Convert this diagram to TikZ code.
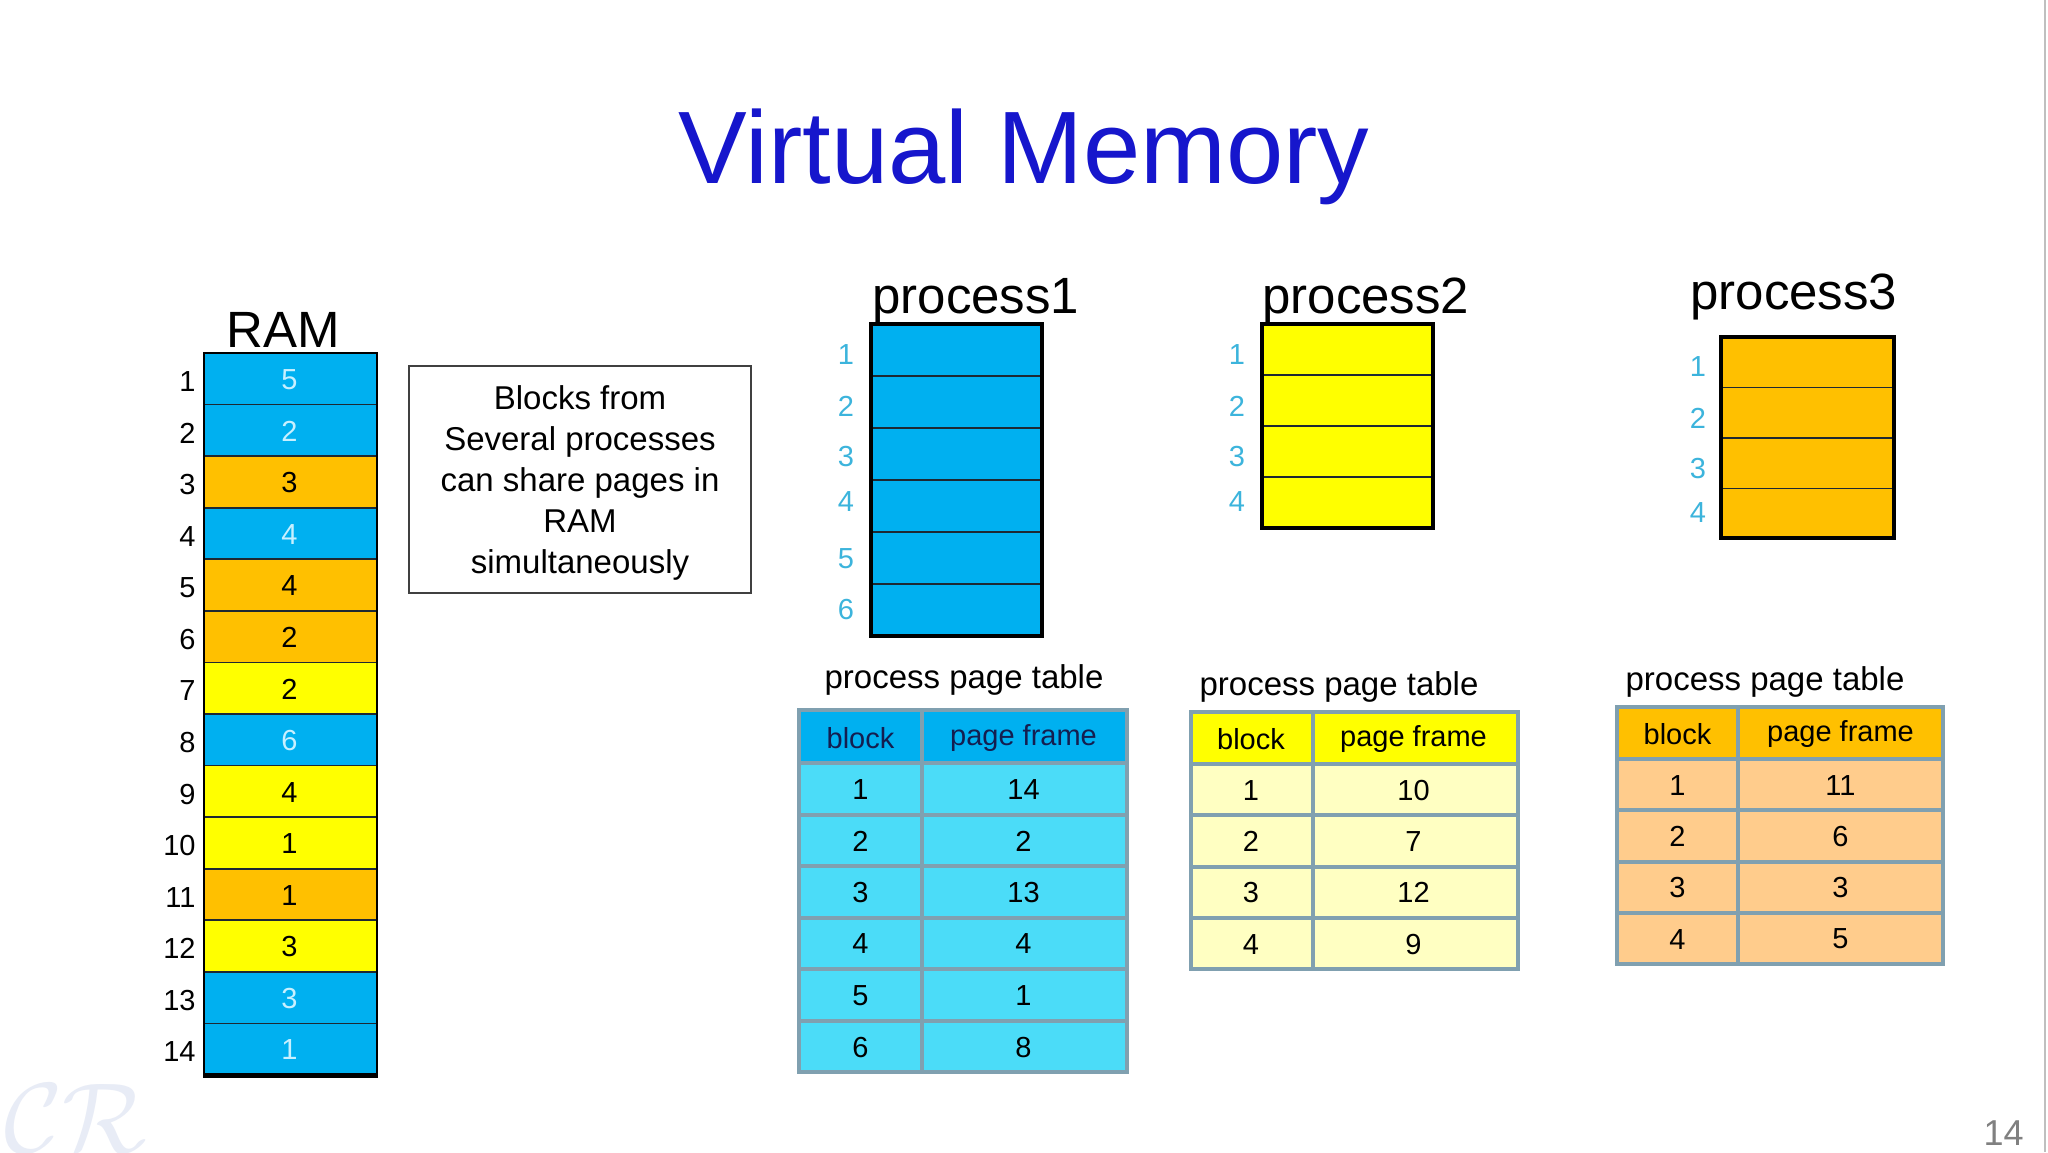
\documentclass[tikz,border=0pt]{standalone}
\usepackage{fontspec}
\setmainfont{Liberation Sans}
\definecolor{ctitle}{RGB}{22,22,204}
\definecolor{cblue}{RGB}{0,176,240}
\definecolor{cyellow}{RGB}{255,255,0}
\definecolor{corange}{RGB}{255,192,0}
\definecolor{wtxt}{RGB}{200,240,255}
\definecolor{rowcyan}{RGB}{60,180,220}
\definecolor{bodyA}{RGB}{75,220,248}
\definecolor{bodyB}{RGB}{255,255,194}
\definecolor{bodyC}{RGB}{255,204,140}
\definecolor{gridc}{RGB}{128,160,176}
\definecolor{navy}{RGB}{20,30,80}
\definecolor{divc}{RGB}{30,40,50}
\definecolor{wmark}{RGB}{232,236,246}
\begin{document}
\begin{tikzpicture}[x=0.5pt,y=-0.5pt,
  numf/.style={font=\fontsize{14.5pt}{17pt}\selectfont, inner sep=0pt},
  rowlab/.style={numf, text=rowcyan},
  proclab/.style={font=\fontsize{25.5pt}{30pt}\selectfont, inner sep=0pt, anchor=base west},
  tabhead/.style={font=\fontsize{16.5pt}{20pt}\selectfont, inner sep=0pt, anchor=base},
  gridline/.style={draw=gridc, line width=2pt},
  divline/.style={draw=divc, line width=0.8pt},
  boxline/.style={draw=black, line width=1.8pt}]
\useasboundingbox (0,0) rectangle (2048,1152);
\fill[white] (0,0) rectangle (2048,1152);
\draw[gray!50, line width=1pt] (2045,0) -- (2045,1152);

% title
\node[font=\fontsize{51.5pt}{60pt}\selectfont, text=ctitle, inner sep=0pt, anchor=base] (title) at (1024,183) {Virtual Memory};

% RAM
\node[font=\fontsize{25.5pt}{30pt}\selectfont, inner sep=0pt, anchor=base] (ramlab) at (283,347) {RAM};
\foreach \i/\c/\t/\tc in {1/cblue/5/wtxt,2/cblue/2/wtxt,3/corange/3/black,4/cblue/4/wtxt,5/corange/4/black,6/corange/2/black,7/cyellow/2/black,8/cblue/6/wtxt,9/cyellow/4/black,10/cyellow/1/black,11/corange/1/black,12/cyellow/3/black,13/cblue/3/wtxt,14/cblue/1/wtxt}{
  \pgfmathsetmacro\ya{353+51.57*(\i-1)}
  \pgfmathsetmacro\yb{\ya+51.57}
  \pgfmathsetmacro\ym{\ya+26.5}
  \fill[\c] (204,\ya) rectangle (377,\yb);
  \node[numf,text=\tc] (ram\i) at (289.5,\ym) {\t};
  \node[numf,anchor=east] (ramidx\i) at (196,\ym+2) {\i};
}
\foreach \i in {1,...,13} \draw[divline] (204,{353+51.57*\i}) -- (377,{353+51.57*\i});
\draw[draw=black, line width=1.2pt] (204,353) rectangle (377,1075);
\draw[draw=black, line width=2.5pt] (203,1075) -- (378,1075);

% text box
\draw[draw=black!75, line width=1pt] (409,366) rectangle (751,593);
\node[font=\fontsize{16.5pt}{20.5pt}\selectfont, align=center, inner sep=0pt] (note) at (580,483) {Blocks from\\Several processes\\can share pages in\\RAM\\simultaneously};

% process1
\node[proclab] (p1lab) at (872,313) {process1};
\fill[cblue] (871,324) rectangle (1042,636);
\foreach \k in {1,...,5} \draw[divline] (871,{324+52*\k}) -- (1042,{324+52*\k});
\draw[boxline] (871,324) rectangle (1042,636);
\draw[draw=black, line width=1.2pt] (871,636) -- (1042,636);
\foreach \i/\y in {1/355,2/406,3/457,4/501.5,5/559,6/610} \node[rowlab] (pa\i) at (846,\y) {\i};

% process2
\node[proclab] (p2lab) at (1262,313) {process2};
\fill[cyellow] (1262,324) rectangle (1433,528);
\foreach \k in {1,...,3} \draw[divline] (1262,{324+51*\k}) -- (1433,{324+51*\k});
\draw[boxline] (1262,324) rectangle (1433,528);
\draw[draw=black, line width=1.2pt] (1262,528) -- (1433,528);
\foreach \i/\y in {1/355,2/406,3/457,4/501.5} \node[rowlab] (pb\i) at (1237,\y) {\i};

% process3
\node[proclab] (p3lab) at (1690,309.5) {process3};
\fill[corange] (1721,337) rectangle (1894,538);
\foreach \k in {1,...,3} \draw[divline] (1721,{337+50.5*\k}) -- (1894,{337+50.5*\k});
\draw[boxline] (1721,337) rectangle (1894,538);
\foreach \i/\y in {1/367,2/418,3/469,4/513} \node[rowlab] (pc\i) at (1698,\y) {\i};

% table 1
\node[tabhead] (t1lab) at (964,688) {process page table};
\fill[cblue] (799,710) rectangle (1127,763);
\fill[bodyA] (799,763) rectangle (1127,1072);
\foreach \k in {1,...,5} \draw[gridline] (799,{763+51.5*\k}) -- (1127,{763+51.5*\k});
\draw[gridline] (799,763) -- (1127,763);
\draw[gridline] (922,710) -- (922,1072);
\draw[gridline] (799,710) rectangle (1127,1072);
\node[numf,text=navy] (t1h1) at (860.5,738) {block};
\node[numf,text=navy] (t1h2) at (1023.5,738) {page frame};
\foreach \r/\v in {1/14,2/2,3/13,4/4,5/1,6/8}{
  \pgfmathsetmacro\ym{763+51.5*(\r-1)+26.5}
  \node[numf] (t1a\r) at (860.5,\ym) {\r};
  \node[numf] (t1b\r) at (1023.5,\ym) {\v};
}

% table 2
\node[tabhead] (t2lab) at (1339,695) {process page table};
\fill[cyellow] (1191,712) rectangle (1518,764);
\fill[bodyB] (1191,764) rectangle (1518,969);
\foreach \k in {1,...,3} \draw[gridline] (1191,{764+51.25*\k}) -- (1518,{764+51.25*\k});
\draw[gridline] (1191,764) -- (1518,764);
\draw[gridline] (1313,712) -- (1313,969);
\draw[gridline] (1191,712) rectangle (1518,969);
\node[numf] (t2h1) at (1251,739) {block};
\node[numf] (t2h2) at (1413.5,739) {page frame};
\foreach \r/\v in {1/10,2/7,3/12,4/9}{
  \pgfmathsetmacro\ym{764+51.25*(\r-1)+26.3}
  \node[numf] (t2a\r) at (1251,\ym) {\r};
  \node[numf] (t2b\r) at (1413.5,\ym) {\v};
}

% table 3
\node[tabhead] (t3lab) at (1765,690) {process page table};
\fill[corange] (1617,707) rectangle (1943,759);
\fill[bodyC] (1617,759) rectangle (1943,964);
\foreach \k in {1,...,3} \draw[gridline] (1617,{759+51.25*\k}) -- (1943,{759+51.25*\k});
\draw[gridline] (1617,759) -- (1943,759);
\draw[gridline] (1738,707) -- (1738,964);
\draw[gridline] (1617,707) rectangle (1943,964);
\node[numf] (t3h1) at (1677.5,734) {block};
\node[numf] (t3h2) at (1840.5,734) {page frame};
\foreach \r/\v in {1/11,2/6,3/3,4/5}{
  \pgfmathsetmacro\ym{759+51.25*(\r-1)+26.3}
  \node[numf] (t3a\r) at (1677.5,\ym) {\r};
  \node[numf] (t3b\r) at (1840.5,\ym) {\v};
}

% page number and watermark
\node[font=\fontsize{18pt}{21pt}\selectfont, text=gray, inner sep=0pt, anchor=base east] (pnum) at (2024,1145) {14};
\node[font=\fontsize{24.88pt}{28pt}\selectfont, text=wmark, inner sep=0pt, anchor=base west] (wm) at (4,1152) {\scalebox{2.0}{$\mathcal{CR}$}};
\end{tikzpicture}
\end{document}
